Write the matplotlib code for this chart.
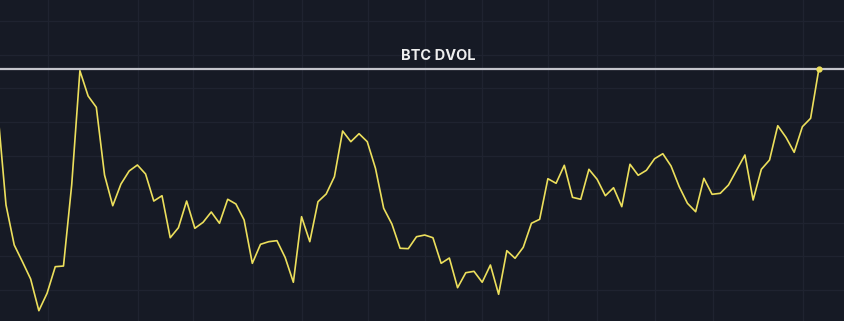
import numpy as np
import matplotlib
matplotlib.use("Agg")
import matplotlib.pyplot as plt

# BTC DVOL daily values
dvol = [66.55, 52.65, 46.70, 44.21, 41.64, 36.92, 39.51, 43.47, 43.57, 55.63,
        72.63, 68.87, 67.19, 57.11, 52.54, 55.77, 57.71, 58.60, 57.26, 53.24,
        54.03, 47.78, 49.27, 53.24, 49.18, 50.07, 51.61, 49.93, 53.50, 52.80,
        50.42, 43.97, 46.80, 47.19, 47.34, 44.84, 41.15, 50.91, 47.19, 53.14,
        54.29, 56.86, 63.66, 62.07, 63.26, 62.07, 58.11, 52.16, 49.82, 46.21,
        46.15, 47.93, 48.18, 47.78, 43.97, 44.76, 40.34, 42.57, 42.78, 41.15,
        43.72, 39.36, 45.85, 44.72, 46.35, 49.93, 50.52, 56.56, 55.88, 58.56,
        53.79, 53.50, 57.96, 56.47, 54.03, 55.22, 52.40, 58.71, 57.07, 57.81,
        59.54, 60.28, 58.45, 55.37, 52.90, 51.65, 56.62, 54.24, 54.39, 55.63,
        57.86, 60.09, 53.39, 57.96, 59.35, 64.45, 62.72, 60.49, 64.30, 65.55,
        72.84]
days = np.arange(len(dvol))

# vertical grid (date ticks) and horizontal grid levels
xgrid = [6.08, 17.11, 23.81, 31.05, 37.02, 45.13, 52.03, 58.94, 67.05,
         73.02, 80.05, 87.15, 98.11]
ygrid = [40, 45, 50, 55, 60, 65, 70, 75, 80]

bg = "#161a25"
fig = plt.figure(figsize=(8.45, 3.21), dpi=100, facecolor=bg)
ax = fig.add_axes([0, 0, 1, 1])
ax.set_facecolor(bg)

for gx in xgrid:
    ax.axvline(gx, color="#1f2330", lw=0.9, zorder=0)
for gy in ygrid:
    ax.axhline(gy, color="#1f2330", lw=0.9, zorder=0)

ax.axhline(dvol[-1], color="#c4c5cc", lw=1.6, zorder=1)
ax.plot(days, dvol, color="#ecdf5c", lw=1.2, zorder=2)
ax.plot(days[-1], dvol[-1], "o", color="#ecdf5c", ms=3.5, zorder=3)

ax.set_xlim(0.268, 103.19)
ax.set_ylim(35.387, 83.155)
ax.axis("off")

fig.text(437.8 / 845, 1 - 56.5 / 321, "BTC DVOL", ha="center", va="center",
         color="#eeeeee", fontsize=10.5, fontweight="bold", family="Inter")

fig.savefig("out.png", dpi=100, facecolor=bg)
